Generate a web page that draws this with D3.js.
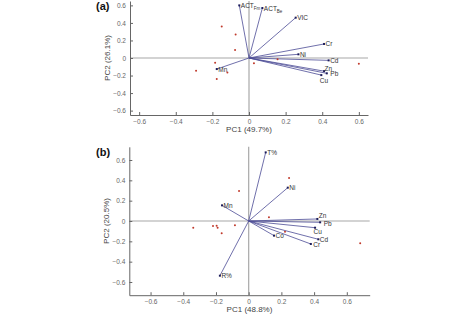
<!DOCTYPE html>
<html>
<head>
<meta charset="utf-8">
<script src="https://cdn.jsdelivr.net/npm/d3@7"></script>
<style>
  body { margin: 0; background: #fff; }
  svg { font-family: "Liberation Sans", Arial, sans-serif; }
</style>
</head>
<body>
<svg id="canvas" width="474" height="320"></svg>
<script>
'use strict';

// panel (a) loadings
var aNames = ['ACT|Fm', 'ACT|Be', 'VIC', 'Cr', 'Ni', 'Cd', 'Zn', 'Pb', 'Cu', 'Mn'];
var aPC1 = [-0.053, 0.073, 0.255, 0.41, 0.27, 0.435, 0.41, 0.425, 0.395, -0.176];
var aPC2 = [0.60, 0.57, 0.46, 0.16, 0.042, -0.027, -0.15, -0.175, -0.195, -0.126];
// panel (a) scores
var aScore1 = [-0.149, -0.073, -0.076, -0.185, -0.289, -0.118, -0.176, 0.027, 0.6, 0.156];
var aScore2 = [0.36, 0.267, 0.091, -0.053, -0.145, -0.164, -0.24, -0.061, -0.065, -0.015];

// panel (b) loadings
var bNames = ['T%', 'Ni', 'Mn', 'Zn', 'Pb', 'Cu', 'Cd', 'Cr', 'Co', 'R%'];
var bPC1 = [0.104, 0.239, -0.163, 0.42, 0.437, 0.406, 0.426, 0.38, 0.155, -0.176];
var bPC2 = [0.675, 0.328, 0.154, 0.02, -0.013, -0.066, -0.18, -0.226, -0.144, -0.538];
// panel (b) scores
var bScore1 = [0.247, -0.059, 0.124, -0.339, -0.218, -0.196, -0.19, -0.165, -0.084, 0.222, 0.682];
var bScore2 = [0.423, 0.295, 0.036, -0.066, -0.049, -0.046, -0.066, -0.121, -0.043, -0.105, -0.22];

var ticks = [-0.6, -0.4, -0.2, 0, 0.2, 0.4, 0.6];

// label nudges (pixels) so crowded loading labels do not collide
var nudgeA = {'Zn': [-1, -3], 'Pb': [2, 0.5], 'Cu': [-3, 5]};
var nudgeB = {'Zn': [0, -3], 'Pb': [2, 1], 'Cu': [-3, 3.5], 'Cr': [1, 1]};

var svg = d3.select('svg#canvas');

/* draw one biplot panel */
function biplot(opt){
  var x = d3.scaleLinear().domain(opt.xDom).range(opt.xRange);
  var y = d3.scaleLinear().domain(opt.yDom).range(opt.yRange);
  var g = svg.append('g');
  var fmt = function(d){ return d === 0 ? '0' : d3.format('.1f')(d); };

  // zero lines
  g.append('line').attr('x1', x.range()[0]).attr('x2', x.range()[1])
    .attr('y1', y(0)).attr('y2', y(0))
    .attr('stroke', '#a8a8a8').attr('stroke-width', 1.2);
  g.append('line').attr('x1', x(0)).attr('x2', x(0))
    .attr('y1', y.range()[0]).attr('y2', y.range()[1])
    .attr('stroke', '#a8a8a8').attr('stroke-width', 1.2);

  // axes
  var xa = g.append('g').attr('transform', 'translate(0,' + y.range()[0] + ')')
    .call(d3.axisBottom(x).tickValues(ticks).tickFormat(fmt).tickSize(-3).tickSizeOuter(0).tickPadding(4));
  var ya = g.append('g').attr('transform', 'translate(' + x.range()[0] + ',0)')
    .call(d3.axisLeft(y).tickValues(ticks).tickFormat(fmt).tickSize(-3).tickSizeOuter(0).tickPadding(4));
  [xa, ya].forEach(function(a){
    a.select('.domain').attr('stroke', '#666');
    a.selectAll('.tick line').attr('stroke', '#666');
    a.selectAll('text').attr('fill', '#666').style('font-size', '6.5px');
  });

  // axis titles
  g.append('text').attr('x', (x.range()[0] + x.range()[1]) / 2).attr('y', y.range()[0] + 17)
    .attr('text-anchor', 'middle').attr('fill', '#444').style('font-size', '8px').text(opt.xTitle);
  g.append('text')
    .attr('transform', 'translate(' + (x.range()[0] - 20) + ',' + y(0) + ') rotate(-90)')
    .attr('text-anchor', 'middle').attr('fill', '#444').style('font-size', '8px').text(opt.yTitle);
  g.append('text').attr('x', 96).attr('y', opt.tagY).attr('font-weight', 'bold')
    .style('font-size', '11px').attr('fill', '#111').text(opt.tag);

  // loading vectors
  var idx = d3.range(opt.names.length);
  g.selectAll('.vec').data(idx).join('line')
    .attr('x1', x(0)).attr('y1', y(0))
    .attr('x2', function(i){ return x(opt.p1[i]); })
    .attr('y2', function(i){ return y(opt.p2[i]); })
    .attr('stroke', '#4b4b96').attr('stroke-width', 0.8);
  g.selectAll('.end').data(idx).join('rect')
    .attr('x', function(i){ return x(opt.p1[i]) - 1; })
    .attr('y', function(i){ return y(opt.p2[i]) - 1; })
    .attr('width', 2).attr('height', 2).attr('fill', '#1c1c5a');
  var off = function(i){ return opt.nudge[opt.names[i]] || [0, 0]; };
  var lab = g.selectAll('.lab').data(idx).join('text')
    .attr('x', function(i){ return x(opt.p1[i]) + 1.5 + off(i)[0]; })
    .attr('y', function(i){ return y(opt.p2[i]) + 2.5 + off(i)[1]; })
    .attr('fill', '#333').style('font-size', '6.5px');
  lab.each(function(i){
    var parts = opt.names[i].split('|');
    var t = d3.select(this);
    t.append('tspan').text(parts[0]);
    if(parts[1]) t.append('tspan').attr('dy', 2).style('font-size', '4.5px').text(parts[1]);
  });

  // scores
  g.selectAll('.score').data(opt.s1).join('circle')
    .attr('cx', function(d){ return x(d); })
    .attr('cy', function(d, i){ return y(opt.s2[i]); })
    .attr('r', 1).attr('fill', '#c0392b');
}

biplot({
  xDom: [-0.65, 0.65], xRange: [130, 368],
  yDom: [-0.65, 0.65], yRange: [115, 1],
  names: aNames, p1: aPC1, p2: aPC2, s1: aScore1, s2: aScore2, nudge: nudgeA,
  xTitle: 'PC1 (49.7%)', yTitle: 'PC2 (26.1%)', tag: '(a)', tagY: 10
});

biplot({
  xDom: [-0.73, 0.74], xRange: [129.3, 369.7],
  yDom: [-0.73, 0.73], yRange: [295.2, 146.8],
  names: bNames, p1: bPC1, p2: bPC2, s1: bScore1, s2: bScore2, nudge: nudgeB,
  xTitle: 'PC1 (48.8%)', yTitle: 'PC2 (20.5%)', tag: '(b)', tagY: 156
});
</script>
</body>
</html>
